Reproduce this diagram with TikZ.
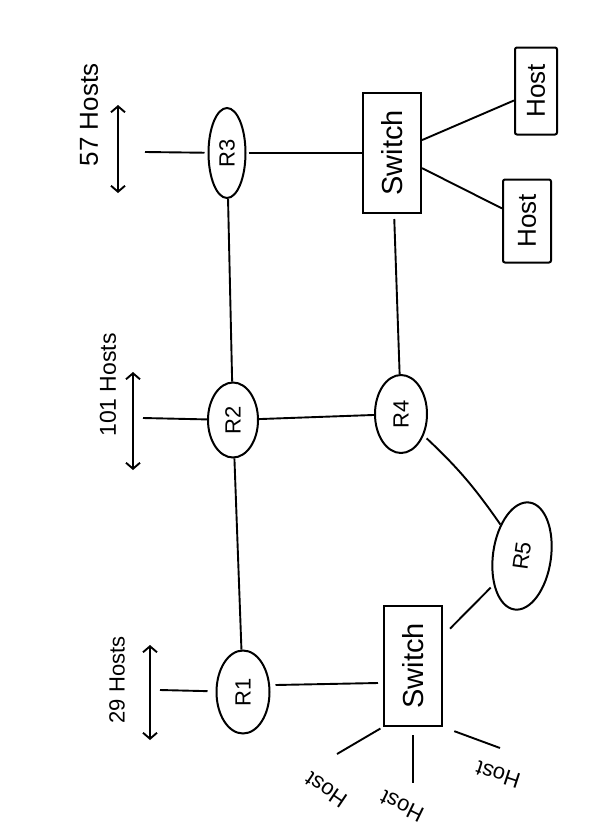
\documentclass[tikz,border=0pt]{standalone}
\usepackage{fontspec}
\setmainfont{Liberation Sans}
\usetikzlibrary{shapes.geometric,arrows.meta,calc}
\begin{document}
\begin{tikzpicture}[x=1pt,y=-1pt,line width=2pt,
  router/.style={draw,ellipse,inner sep=0pt,rotate=90,font=\fontsize{22}{22}\selectfont},
  switchbox/.style={draw,rectangle,inner sep=0pt,rotate=90,minimum width=120pt,minimum height=58pt,font=\fontsize{29}{29}\selectfont},
  hostbox/.style={draw,rectangle,rounded corners=2pt,inner sep=0pt,rotate=90,font=\fontsize{26}{26}\selectfont},
  hostlbl/.style={inner sep=0pt,font=\fontsize{22}{22}\selectfont},
  cntlbl/.style={inner sep=0pt,rotate=90},
  span/.style={{Straight Barb[length=6pt,width=14pt]}-{Straight Barb[length=6pt,width=14pt]},line width=1.9pt},
  link/.style={line width=1.9pt}]
\useasboundingbox[fill=white] (0,0) rectangle (597,831);

% routers
\node[router,minimum width=90pt,minimum height=37pt] (r3) at (227,153) {R3};
\node[router,minimum width=75pt,minimum height=50pt] (r2) at (233,420) {R2};
\node[router,minimum width=78pt,minimum height=52pt] (r4) at (401,414) {R4};
\node[router,minimum width=108pt,minimum height=58pt,rotate=-8] (r5) at (522,556) {R5};
\node[router,minimum width=83pt,minimum height=53pt] (r1) at (243,692) {R1};

% switches
\node[switchbox] (sw1) at (392,153) {Switch};
\node[switchbox] (sw2) at (413,666) {Switch};

% host boxes
\node[hostbox,minimum width=87pt,minimum height=42pt] (h1) at (536,91) {Host};
\node[hostbox,minimum width=83pt,minimum height=48pt] (h2) at (527,221) {Host};

% bottom host labels
\node[hostlbl,rotate=146] (h3) at (326,790) {Host};
\node[hostlbl,rotate=154] (h4) at (402,806) {Host};
\node[hostlbl,rotate=162] (h5) at (498,775) {Host};

% host-count labels
\node[cntlbl,font=\fontsize{26}{26}\selectfont] (c3) at (89,115) {57 Hosts};
\node[cntlbl,font=\fontsize{23}{23}\selectfont] (c2) at (108,385) {101 Hosts};
\node[cntlbl,font=\fontsize{22}{22}\selectfont] (c1) at (117,680) {29 Hosts};

% span arrows
\coordinate (a3t) at (118,105); \coordinate (a3b) at (118,193);
\coordinate (a2t) at (133,372); \coordinate (a2b) at (133,470);
\coordinate (a1t) at (150,645); \coordinate (a1b) at (150,740);
\draw[span] (a3t) -- (a3b);
\draw[span] (a2t) -- (a2b);
\draw[span] (a1t) -- (a1b);

% stub lines from routers
\coordinate (l3) at (145,152);
\coordinate (l2) at (143,418);
\coordinate (l1) at (160,690);
\draw[link,shorten >=3pt] (l3) -- (r3);
\draw[link] (l2) -- (r2);
\draw[link,shorten >=8pt] (l1) -- (r1);

% router links
\draw[link] (r3) -- (r2);
\draw[link] (r2) -- (r1);
\draw[link] (r2) -- (r4);
\draw[link,shorten <=2pt] (r3) -- (sw1);
\draw[link,shorten <=5pt] (sw1) -- (r4);
\draw[link,shorten <=4pt,bend left=6] (r4) to (r5);
\draw[link,shorten <=4pt,shorten >=10pt] (r5) -- (sw2);
\draw[link] ($(r1.south)+(5,-7)$) -- ($(sw2.north)+(-5,17)$);

% switch to hosts
\draw[link] (sw1) -- (h1);
\draw[link] (sw1) -- (h2);
\coordinate (e3) at (337,754);
\coordinate (e4) at (413,783);
\coordinate (e5) at (500,748);
\draw[link,shorten <=3pt] (sw2.north west) -- (e3);
\draw[link,shorten <=8pt] (sw2.west) -- (e4);
\draw[link,shorten <=12pt] (sw2.south west) -- (e5);
\end{tikzpicture}
\end{document}
